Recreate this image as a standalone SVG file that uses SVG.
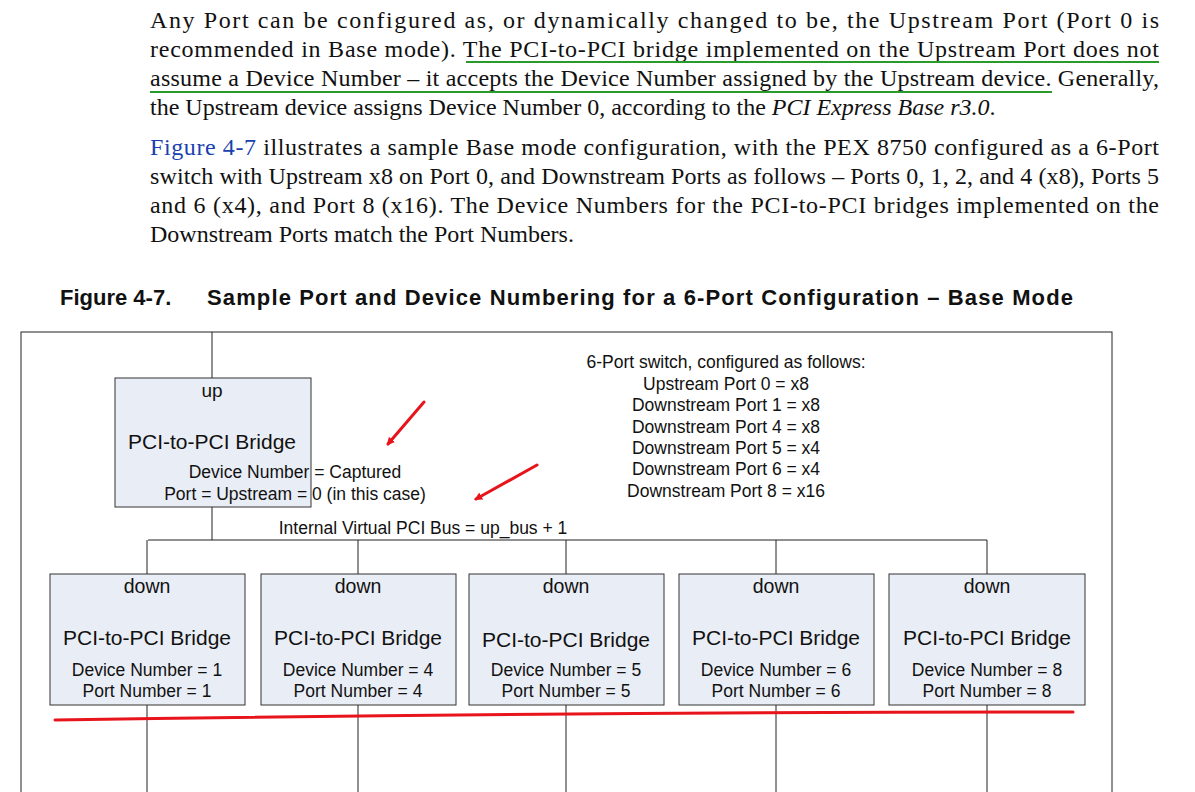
<svg xmlns="http://www.w3.org/2000/svg" width="1195" height="792" viewBox="0 0 1195 792">
<style>
.p{font-family:"Liberation Serif",serif;font-size:24px;fill:#111}
.s{font-family:"Liberation Sans",Arial,sans-serif;fill:#111;text-anchor:middle}
.box{fill:#e9edf5;stroke:#333;stroke-width:1}
.ln{stroke:#222;stroke-width:1;fill:none}
.red{stroke:#e8141b;stroke-width:3;fill:none;stroke-linecap:round}
</style>
<defs><marker id="ah" markerWidth="8" markerHeight="8" refX="6" refY="4" orient="auto" markerUnits="userSpaceOnUse"><path d="M0,0 L8,4 L0,8 z" fill="#e8141b"/></marker></defs>
<rect width="1195" height="792" fill="#fff"/>
<g id="text">
<text class="p" x="150" y="28" textLength="1009" lengthAdjust="spacing">Any Port can be configured as, or dynamically changed to be, the Upstream Port (Port 0 is</text>
<text class="p" x="150" y="57" textLength="1009" lengthAdjust="spacing">recommended in Base mode). The PCI-to-PCI bridge implemented on the Upstream Port does not</text>
<text class="p" x="150" y="86" textLength="1009" lengthAdjust="spacing">assume a Device Number – it accepts the Device Number assigned by the Upstream device. Generally,</text>
<text class="p" x="150" y="115">the Upstream device assigns Device Number 0, according to the <tspan font-style="italic">PCI Express Base r3.0</tspan>.</text>
<text class="p" x="150" y="155" textLength="1009" lengthAdjust="spacing"><tspan fill="#1a3fb0">Figure 4-7</tspan> illustrates a sample Base mode configuration, with the PEX 8750 configured as a 6-Port</text>
<text class="p" x="150" y="184" textLength="1009" lengthAdjust="spacing">switch with Upstream x8 on Port 0, and Downstream Ports as follows – Ports 0, 1, 2, and 4 (x8), Ports 5</text>
<text class="p" x="150" y="213" textLength="1009" lengthAdjust="spacing">and 6 (x4), and Port 8 (x16). The Device Numbers for the PCI-to-PCI bridges implemented on the</text>
<text class="p" x="150" y="242">Downstream Ports match the Port Numbers.</text>
<path d="M466,62 H1159 M150,92 H1052" stroke="#2a9a2a" stroke-width="2"/>
<text x="60" y="305" font-family="Liberation Sans,Arial,sans-serif" font-weight="bold" font-size="22" fill="#111">Figure 4-7.<tspan x="207" textLength="866" lengthAdjust="spacing">Sample Port and Device Numbering for a 6-Port Configuration – Base Mode</tspan></text>
</g>
<rect x="21" y="332" width="1091" height="470" class="ln"/>
<g id="connectors" class="ln">
<path d="M212,332 V378 M212,507 V540 M148,540 H987"/>
<path d="M147,540 V574 M358,540 V574 M566,540 V574 M776,540 V574 M987,540 V574"/>
<path d="M147,705 V792 M358,705 V792 M566,705 V792 M776,705 V792 M987,705 V792"/>
</g>
<g id="up">
<rect class="box" x="115" y="378" width="196" height="129"/>
<text class="s" x="212" y="397" font-size="19">up</text>
<text class="s" x="212" y="449" font-size="21">PCI-to-PCI Bridge</text>
<text class="s" x="295" y="478" font-size="17.5">Device Number = Captured</text>
<text class="s" x="295" y="500" font-size="17.5">Port = Upstream = 0 (in this case)</text>
</g>
<g id="info" class="s" font-size="17.5">
<text x="726" y="368">6-Port switch, configured as follows:</text>
<text x="726" y="390">Upstream Port 0 = x8</text>
<text x="726" y="411">Downstream Port 1 = x8</text>
<text x="726" y="433">Downstream Port 4 = x8</text>
<text x="726" y="454">Downstream Port 5 = x4</text>
<text x="726" y="475">Downstream Port 6 = x4</text>
<text x="726" y="497">Downstream Port 8 = x16</text>
</g>
<text class="s" x="423" y="534" font-size="17.5">Internal Virtual PCI Bus = up_bus + 1</text>
<g id="d1"><rect class="box" x="50" y="574" width="195" height="131"/><text class="s" x="147" y="593" font-size="19.5">down</text><text class="s" x="147" y="645" font-size="21">PCI-to-PCI Bridge</text><text class="s" x="147" y="676" font-size="17.5">Device Number = 1</text><text class="s" x="147" y="697" font-size="17.5">Port Number = 1</text></g>
<g id="d4"><rect class="box" x="261" y="574" width="195" height="131"/><text class="s" x="358" y="593" font-size="19.5">down</text><text class="s" x="358" y="645" font-size="21">PCI-to-PCI Bridge</text><text class="s" x="358" y="676" font-size="17.5">Device Number = 4</text><text class="s" x="358" y="697" font-size="17.5">Port Number = 4</text></g>
<g id="d5"><rect class="box" x="469" y="574" width="195" height="131"/><text class="s" x="566" y="593" font-size="19.5">down</text><text class="s" x="566" y="647" font-size="21">PCI-to-PCI Bridge</text><text class="s" x="566" y="676" font-size="17.5">Device Number = 5</text><text class="s" x="566" y="697" font-size="17.5">Port Number = 5</text></g>
<g id="d6"><rect class="box" x="679" y="574" width="195" height="131"/><text class="s" x="776" y="593" font-size="19.5">down</text><text class="s" x="776" y="645" font-size="21">PCI-to-PCI Bridge</text><text class="s" x="776" y="676" font-size="17.5">Device Number = 6</text><text class="s" x="776" y="697" font-size="17.5">Port Number = 6</text></g>
<g id="d8"><rect class="box" x="889" y="574" width="196" height="131"/><text class="s" x="987" y="593" font-size="19.5">down</text><text class="s" x="987" y="645" font-size="21">PCI-to-PCI Bridge</text><text class="s" x="987" y="676" font-size="17.5">Device Number = 8</text><text class="s" x="987" y="697" font-size="17.5">Port Number = 8</text></g>
<g id="marks">
<path class="red" d="M424,402 L388,444" marker-end="url(#ah)"/>
<path class="red" d="M537,465 L476,499" marker-end="url(#ah)"/>
<path class="red" d="M55,720 Q560,712 1073,712"/>
</g>
</svg>
